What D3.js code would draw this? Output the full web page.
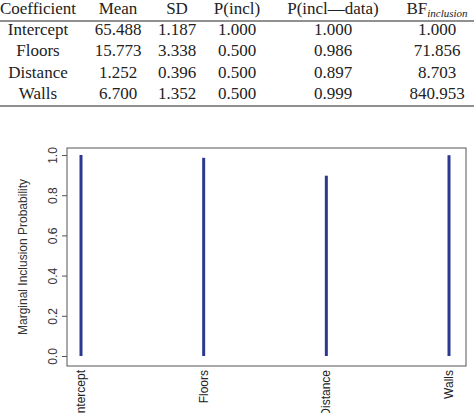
<!DOCTYPE html>
<html><head><meta charset="utf-8">
<script src="https://cdn.jsdelivr.net/npm/d3@7"></script>
<style>body{margin:0;background:#fff}</style>
</head><body><svg id="c" width="474" height="413"></svg>
<script>
const coefs = ["Intercept", "Floors", "Distance", "Walls"];
const means = ["65.488", "15.773", "1.252", "6.700"];
const sds = ["1.187", "3.338", "0.396", "1.352"];
const pIncl = ["1.000", "0.500", "0.500", "0.500"];
const pInclData = [1.000, 0.986, 0.897, 0.999];
const bfIncl = ["1.000", "71.856", "8.703", "840.953"];
const yTicks = [0, 0.2, 0.4, 0.6, 0.8, 1.0];

const svg = d3.select("#c");

// table
const colX = [38, 118, 177, 237, 333, 437];
const rowY = [14, 35, 56, 78, 99];
const head = ["Coefficient", "Mean", "SD", "P(incl)", "P(incl\u2014data)", "BF"];
const tbl = svg.append("g").attr("font-family", "'Liberation Serif', serif").attr("font-size", 17).attr("fill", "#222");
head.forEach((h, i) => {
  const t = tbl.append("text").attr("x", colX[i]).attr("y", rowY[0]).attr("text-anchor", "middle").text(h);
  if (i === 5) t.append("tspan").attr("font-style", "italic").attr("font-size", 11).attr("dy", 3).text("inclusion");
});
const rows = coefs.map((c, i) => [c, means[i], sds[i], pIncl[i], pInclData[i].toFixed(3), bfIncl[i]]);
rows.forEach((r, j) => r.forEach((v, i) => {
  tbl.append("text").attr("x", colX[i]).attr("y", rowY[j + 1]).attr("text-anchor", "middle").text(v);
}));
svg.append("line").attr("x1", 0).attr("x2", 474).attr("y1", 21).attr("y2", 21).attr("stroke", "#222").attr("stroke-width", 1.2);
svg.append("line").attr("x1", 0).attr("x2", 474).attr("y1", 106).attr("y2", 106).attr("stroke", "#222").attr("stroke-width", 1.2);

// chart
const pl = 67, pr = 466, pt = 148, pb = 366;
const x = d3.scalePoint().domain(coefs).range([81, 449]);
const y = d3.scaleLinear().domain([0, 1]).range([356, 155]);

svg.append("rect").attr("x", pl).attr("y", pt).attr("width", pr - pl).attr("height", pb - pt)
  .attr("fill", "none").attr("stroke", "#555").attr("stroke-width", 1);

const ya = svg.append("g").attr("transform", `translate(${pl},0)`)
  .call(d3.axisLeft(y).tickValues(yTicks).tickFormat(d3.format(".1f")).tickSize(5));
ya.select(".domain").remove();
ya.selectAll("line").attr("stroke", "#555");
ya.selectAll("text")
  .attr("font-family", "'Liberation Sans', Arial, sans-serif").attr("font-size", 12).attr("fill", "#333")
  .attr("x", 0).attr("dy", 0).attr("text-anchor", "middle")
  .attr("transform", "translate(-10,0) rotate(-90)");

svg.append("text").attr("transform", `translate(27,${(pt + pb) / 2}) rotate(-90)`)
  .attr("text-anchor", "middle").attr("font-family", "'Liberation Sans', Arial, sans-serif").attr("font-size", 12).attr("fill", "#333")
  .text("Marginal Inclusion Probability");

svg.selectAll(".bar").data(coefs).join("line")
  .attr("x1", d => x(d)).attr("x2", d => x(d))
  .attr("y1", y(0)).attr("y2", (d, i) => y(pInclData[i]))
  .attr("stroke", "#2b3990").attr("stroke-width", 3);

svg.selectAll(".xl").data(coefs).join("text")
  .attr("transform", d => `translate(${x(d) + 4},${pb + 4}) rotate(-90)`)
  .attr("text-anchor", "end").attr("font-family", "'Liberation Sans', Arial, sans-serif").attr("font-size", 12).attr("fill", "#222")
  .text(d => d);
</script></body></html>
